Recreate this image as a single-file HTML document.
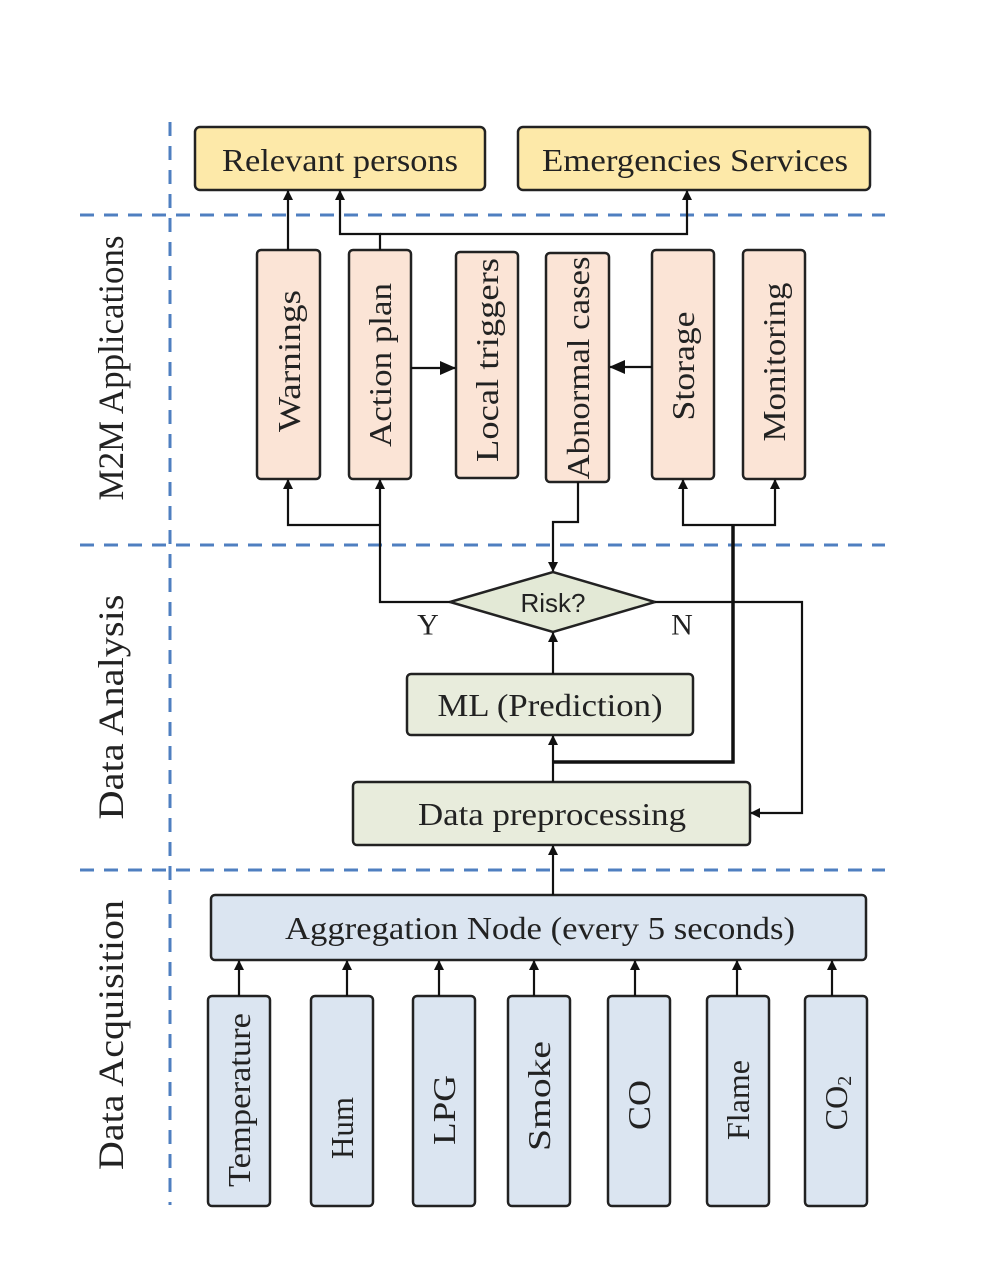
<!DOCTYPE html>
<html><head><meta charset="utf-8"><style>html,body{margin:0;padding:0;background:#fff}svg{display:block}</style></head>
<body>
<svg width="1000" height="1266" viewBox="0 0 1000 1266" xmlns="http://www.w3.org/2000/svg">
<defs>
<marker id="a" markerWidth="10" markerHeight="10" refX="9" refY="5" orient="auto" markerUnits="userSpaceOnUse"><path d="M0,0 L10,5 L0,10 Z" fill="#111"/></marker>
<marker id="b" markerWidth="16" markerHeight="14" refX="15" refY="7" orient="auto" markerUnits="userSpaceOnUse"><path d="M0,0 L16,7 L0,14 Z" fill="#111"/></marker>
</defs>
<g stroke="#4f7fc0" stroke-width="3" stroke-dasharray="14,10" fill="none">
<line x1="170" y1="122" x2="170" y2="1205"/>
<line x1="80" y1="215" x2="885" y2="215"/>
<line x1="80" y1="545" x2="885" y2="545"/>
<line x1="80" y1="870" x2="885" y2="870"/>
</g>
<g font-family="Liberation Serif, serif" font-size="36" fill="#222" text-anchor="middle" lengthAdjust="spacingAndGlyphs">
<text transform="translate(123,368) rotate(-90)" textLength="265" lengthAdjust="spacingAndGlyphs">M2M Applications</text>
<text transform="translate(123,707) rotate(-90)" textLength="225" lengthAdjust="spacingAndGlyphs">Data Analysis</text>
<text transform="translate(123,1035) rotate(-90)" textLength="270" lengthAdjust="spacingAndGlyphs">Data Acquisition</text>
</g>
<g stroke="#222" stroke-width="2.5">
<rect x="195" y="127" width="290" height="63" rx="5" fill="#fde9a9"/>
<rect x="518" y="127" width="352" height="63" rx="5" fill="#fde9a9"/>
<g fill="#fbe4d6">
<rect x="257" y="250" width="63" height="229" rx="4"/>
<rect x="349" y="250" width="62" height="229" rx="4"/>
<rect x="456" y="252" width="62" height="226" rx="4"/>
<rect x="546" y="253" width="63" height="229" rx="4"/>
<rect x="652" y="250" width="62" height="229" rx="4"/>
<rect x="743" y="250" width="62" height="229" rx="4"/>
</g>
<polygon points="450,602 553,572 655,602 553,632" fill="#e3e9d6"/>
<rect x="407" y="674" width="286" height="61" rx="4" fill="#e8ecdc"/>
<rect x="353" y="782" width="397" height="63" rx="4" fill="#e8ecdc"/>
<rect x="211" y="895" width="655" height="65" rx="4" fill="#dbe5f1"/>
<g fill="#dbe5f1">
<rect x="208" y="996" width="62" height="210" rx="4"/>
<rect x="311" y="996" width="62" height="210" rx="4"/>
<rect x="413" y="996" width="62" height="210" rx="4"/>
<rect x="508" y="996" width="62" height="210" rx="4"/>
<rect x="608" y="996" width="62" height="210" rx="4"/>
<rect x="707" y="996" width="62" height="210" rx="4"/>
<rect x="805" y="996" width="62" height="210" rx="4"/>
</g>
</g>
<g stroke="#111" stroke-width="2.2" fill="none">
<line x1="288" y1="250" x2="288" y2="191" marker-end="url(#a)"/>
<polyline points="380,250 380,234 340,234 340,191" marker-end="url(#a)"/>
<polyline points="380,234 687,234 687,191" marker-end="url(#a)"/>
<line x1="411" y1="368" x2="455" y2="368" marker-end="url(#b)"/>
<line x1="652" y1="367" x2="610" y2="367" marker-end="url(#b)"/>
<polyline points="380,525 288,525 288,480" marker-end="url(#a)"/>
<polyline points="450,602 380,602 380,480" marker-end="url(#a)"/>
<polyline points="578,482 578,522 553,522 553,571" marker-end="url(#a)"/>
<polyline points="733,525 683,525 683,480" marker-end="url(#a)"/>
<polyline points="733,525 775,525 775,480" marker-end="url(#a)"/>
<polyline points="733,525 733,762 553,762" stroke-width="3.5"/>
<line x1="553" y1="782" x2="553" y2="736" marker-end="url(#a)"/>
<line x1="553" y1="674" x2="553" y2="633" marker-end="url(#a)"/>
<polyline points="655,602 802,602 802,813 751,813" marker-end="url(#a)"/>
<line x1="553" y1="895" x2="553" y2="846" marker-end="url(#a)"/>
<line x1="239" y1="996" x2="239" y2="961" marker-end="url(#a)"/>
<line x1="347" y1="996" x2="347" y2="961" marker-end="url(#a)"/>
<line x1="439" y1="996" x2="439" y2="961" marker-end="url(#a)"/>
<line x1="534" y1="996" x2="534" y2="961" marker-end="url(#a)"/>
<line x1="635" y1="996" x2="635" y2="961" marker-end="url(#a)"/>
<line x1="737" y1="996" x2="737" y2="961" marker-end="url(#a)"/>
<line x1="832" y1="996" x2="832" y2="961" marker-end="url(#a)"/>
</g>
<g font-family="Liberation Serif, serif" font-size="32" fill="#222" text-anchor="middle" dominant-baseline="central">
<text x="340" y="160" textLength="236" lengthAdjust="spacingAndGlyphs">Relevant persons</text>
<text x="695" y="160" textLength="306" lengthAdjust="spacingAndGlyphs">Emergencies Services</text>
<text transform="translate(289,361) rotate(-90)" textLength="142" lengthAdjust="spacingAndGlyphs">Warnings</text>
<text transform="translate(380,365) rotate(-90)" textLength="164" lengthAdjust="spacingAndGlyphs">Action plan</text>
<text transform="translate(487,360) rotate(-90)" textLength="204" lengthAdjust="spacingAndGlyphs">Local triggers</text>
<text transform="translate(578,368) rotate(-90)" textLength="223" lengthAdjust="spacingAndGlyphs">Abnormal cases</text>
<text transform="translate(683,366) rotate(-90)" textLength="109" lengthAdjust="spacingAndGlyphs">Storage</text>
<text transform="translate(774,362) rotate(-90)" textLength="159" lengthAdjust="spacingAndGlyphs">Monitoring</text>
<text x="550" y="705" textLength="225" lengthAdjust="spacingAndGlyphs">ML (Prediction)</text>
<text x="552" y="814" textLength="268" lengthAdjust="spacingAndGlyphs">Data preprocessing</text>
<text x="540" y="928" textLength="510" lengthAdjust="spacingAndGlyphs">Aggregation Node (every 5 seconds)</text>
<text x="428" y="625" font-size="30">Y</text>
<text x="682" y="625" font-size="30">N</text>
<text transform="translate(239,1100) rotate(-90)" textLength="174" lengthAdjust="spacingAndGlyphs">Temperature</text>
<text transform="translate(342,1128) rotate(-90)" textLength="62" lengthAdjust="spacingAndGlyphs">Hum</text>
<text transform="translate(444,1110) rotate(-90)" textLength="70" lengthAdjust="spacingAndGlyphs">LPG</text>
<text transform="translate(539,1096) rotate(-90)" textLength="110" lengthAdjust="spacingAndGlyphs">Smoke</text>
<text transform="translate(639,1105) rotate(-90)" textLength="50" lengthAdjust="spacingAndGlyphs">CO</text>
<text transform="translate(738,1100) rotate(-90)" textLength="80" lengthAdjust="spacingAndGlyphs">Flame</text>
<text transform="translate(836,1103) rotate(-90)">CO<tspan font-size="20" dy="9">2</tspan></text>
<text x="553" y="603" font-family="Liberation Sans, sans-serif" font-size="26">Risk?</text>
</g>
</svg>
</body></html>
